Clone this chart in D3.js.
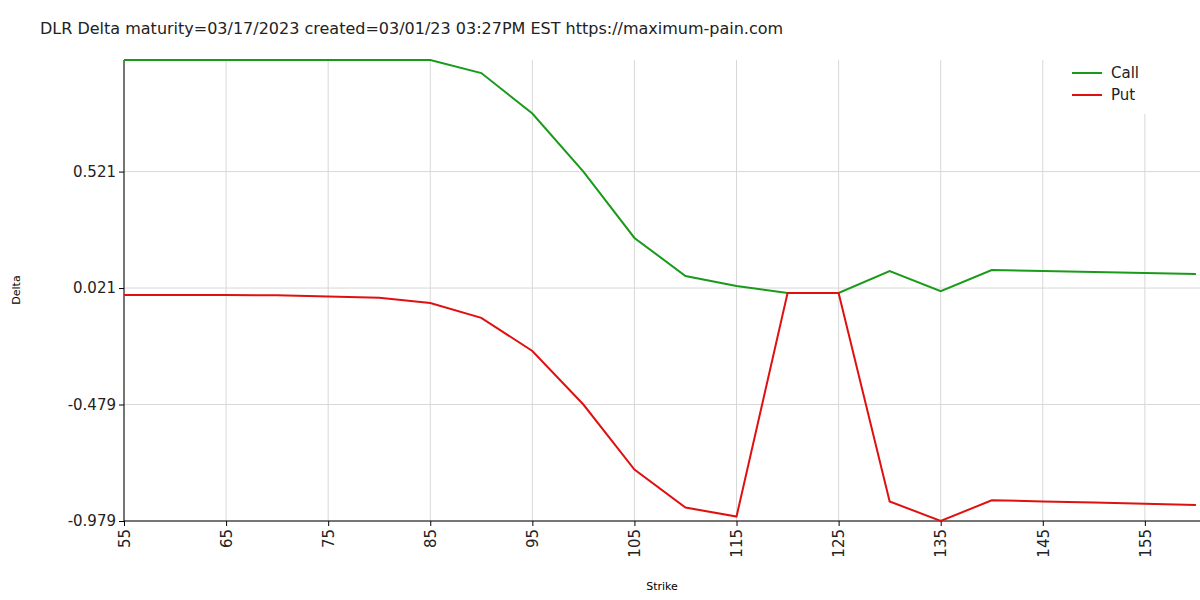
<!DOCTYPE html>
<html><head><meta charset="utf-8">
<script src="https://cdn.jsdelivr.net/npm/d3@7"></script>
<style>body{margin:0;background:#fff}text{font-family:"DejaVu Sans",sans-serif}</style>
</head><body><svg id="c" width="1200" height="600"></svg>
<script>
const strikes = [55,60,65,70,75,80,85,90,95,100,105,110,115,120,125,130,135,140,145,150,155,160];
const callDelta = [1,1,1,1,1,1,1,0.944,0.77,0.521,0.236,0.073,0.03,0,0,0.094,0.008,0.098,0.094,0.09,0.086,0.081];
const putDelta = [-0.009,-0.009,-0.009,-0.01,-0.015,-0.021,-0.043,-0.107,-0.249,-0.479,-0.758,-0.921,-0.96,0,0,-0.895,-0.979,-0.89,-0.895,-0.9,-0.905,-0.91];
const yTicks = [0.521,0.021,-0.479,-0.979];
const xTicks = [55,65,75,85,95,105,115,125,135,145,155];

const svg = d3.select("#c");
const x = d3.scaleLinear().domain([55,160.4]).range([124,1200]);
const y = d3.scaleLinear().domain([-0.979,1]).range([521,60]);

svg.append("text").attr("x",40).attr("y",34).attr("font-size",16).attr("fill","#222")
  .text("DLR Delta maturity=03/17/2023 created=03/01/23 03:27PM EST https://maximum-pain.com");

const g = svg.append("g");
g.selectAll(".gx").data(xTicks).join("line").attr("x1",d=>x(d)).attr("x2",d=>x(d))
  .attr("y1",60).attr("y2",521).attr("stroke","#d8d8d8");
g.selectAll(".gy").data(yTicks).join("line").attr("x1",124).attr("x2",1200)
  .attr("y1",d=>y(d)).attr("y2",d=>y(d)).attr("stroke","#d8d8d8");

const ya = svg.append("g").attr("transform","translate(124,0)")
  .call(d3.axisLeft(y).tickValues(yTicks).tickFormat(d=>d.toFixed(3)).tickSize(5));
ya.select(".domain").attr("d","M-0,60V521");
ya.selectAll("text").attr("font-size",15).attr("fill","#222").style("font-family","DejaVu Sans");
const xa = svg.append("g").attr("transform","translate(0,521)")
  .call(d3.axisBottom(x).tickValues(xTicks).tickFormat(d3.format("d")).tickSize(5));
xa.select(".domain").attr("d","M124,0H1200");
xa.selectAll("text").attr("font-size",15).attr("fill","#222").style("font-family","DejaVu Sans")
  .attr("transform","rotate(-90)").attr("text-anchor","end").attr("y",0).attr("x",-8).attr("dy","0.35em");

svg.append("text").attr("x",662).attr("y",590).attr("font-size",11).attr("text-anchor","middle").text("Strike");
svg.append("text").attr("transform","translate(20,290) rotate(-90)").attr("font-size",11).attr("text-anchor","middle").text("Delta");

const line = d3.line().x((d,i)=>x(strikes[i])).y(d=>y(d));
svg.append("path").datum(callDelta).attr("d",line).attr("fill","none").attr("stroke","#1a9a1a").attr("stroke-width",2);
svg.append("path").datum(putDelta).attr("d",line).attr("fill","none").attr("stroke","#e01010").attr("stroke-width",2);

const leg = svg.append("g");
leg.append("rect").attr("x",1062).attr("y",60).attr("width",138).attr("height",54).attr("fill","#fff");
[["Call","#1a9a1a"],["Put","#e01010"]].forEach((s,i)=>{
  leg.append("line").attr("x1",1072).attr("x2",1102).attr("y1",73+i*22).attr("y2",73+i*22).attr("stroke",s[1]).attr("stroke-width",2);
  leg.append("text").attr("x",1111).attr("y",78+i*22).attr("font-size",15).attr("fill","#222").text(s[0]);
});
</script></body></html>
